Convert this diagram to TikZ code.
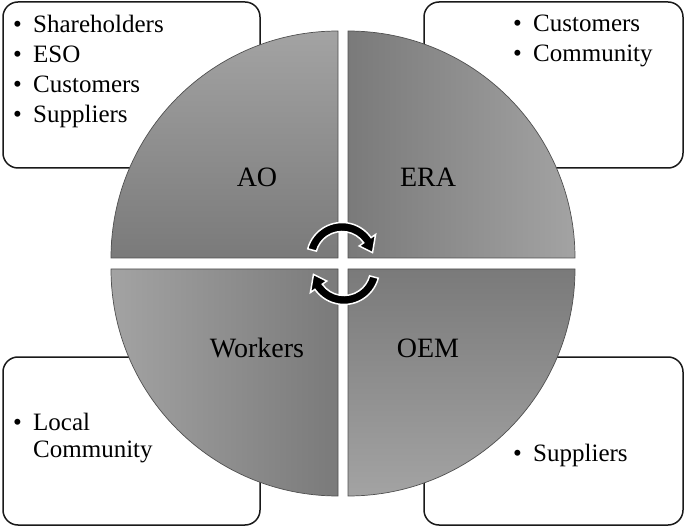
\documentclass[tikz,border=0pt]{standalone}
\usepackage{fontspec}
\setmainfont{Liberation Serif}
\definecolor{qlight}{HTML}{A3A3A3}
\definecolor{qdark}{HTML}{7A7A7A}
\definecolor{qline}{HTML}{505050}
\begin{document}
\begin{tikzpicture}[x=1pt,y=1pt,
  listbox/.style={draw=black!90, line width=1.5pt, rounded corners=15pt, fill=white},
  quad/.style={draw=qline, line width=0.7pt},
  listtext/.style={inner sep=0pt, anchor=base west, font=\fontsize{25}{30}\selectfont},
  qlabel/.style={inner sep=0pt, anchor=base, font=\fontsize{28}{32}\selectfont},
  cyc/.style={fill=black, draw=white, line width=1.5pt}
]
\useasboundingbox (0,0) rectangle (685,528);
% boxes
\draw[listbox] (3,526) rectangle (260,360);
\draw[listbox] (424,526) rectangle (683,360);
\draw[listbox] (3,171) rectangle (260,3);
\draw[listbox] (424,171) rectangle (683,3);
% quadrants
\path[quad, top color=qlight, bottom color=qdark]
  (338,270) -- (111,270) arc[start angle=180, end angle=90, radius=227] -- cycle;
\path[quad, left color=qdark, right color=qlight]
  (348,270) -- (348,497) arc[start angle=90, end angle=0, radius=227] -- cycle;
\path[quad, left color=qlight, right color=qdark]
  (338,259) -- (111,259) arc[start angle=180, end angle=270, radius=227] -- cycle;
\path[quad, top color=qdark, bottom color=qlight]
  (348,259) -- (575,259) arc[start angle=0, end angle=-90, radius=227] -- cycle;
% labels
\node[qlabel] (ao) at (257,341) {AO};
\node[qlabel] (era) at (428,341) {ERA};
\node[qlabel] (wk) at (257,171) {Workers};
\node[qlabel] (oem) at (428,171) {OEM};
% cycle arrows
\begin{scope}[shift={(342,270)}]
\path[cyc] (165:35.5) arc[start angle=165, end angle=35, radius=35.5]
  -- (35:41) -- (10:31) -- (35:21) -- (35:26.5)
  arc[start angle=35, end angle=165, radius=26.5] -- cycle;
\end{scope}
\begin{scope}[shift={(344,259)}]
\path[cyc] (345:35.5) arc[start angle=345, end angle=215, radius=35.5]
  -- (215:41) -- (190:31) -- (215:21) -- (215:26.5)
  arc[start angle=215, end angle=345, radius=26.5] -- cycle;
\end{scope}
% top-left list
\node[listtext] (b1) at (13,495) {•};
\node[listtext] (t1) at (33,495) {Shareholders};
\node[listtext] (b2) at (13,465) {•};
\node[listtext] (t2) at (33,465) {ESO};
\node[listtext] (b3) at (13,435) {•};
\node[listtext] (t3) at (33,435) {Customers};
\node[listtext] (b4) at (13,405) {•};
\node[listtext] (t4) at (33,405) {Suppliers};
% top-right list
\node[listtext] (b5) at (513,496) {•};
\node[listtext] (t5) at (533,496) {Customers};
\node[listtext] (b6) at (513,466) {•};
\node[listtext] (t6) at (533,466) {Community};
% bottom-left list
\node[listtext] (b7) at (13,98) {•};
\node[listtext] (t7) at (33,98) {Local};
\node[listtext] (t8) at (33,71) {Community};
% bottom-right list
\node[listtext] (b9) at (513,67) {•};
\node[listtext] (t9) at (533,67) {Suppliers};
\end{tikzpicture}
\end{document}
